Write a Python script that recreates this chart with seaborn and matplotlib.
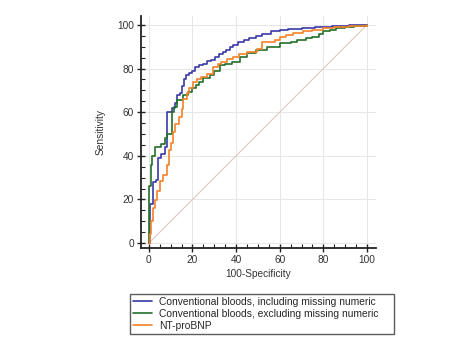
import pandas as pd
import matplotlib
matplotlib.use("Agg")
import matplotlib.pyplot as plt
from matplotlib.ticker import MultipleLocator
import seaborn as sns

# -----------------------------
# ROC DATA (100-Specificity, Sensitivity)
# -----------------------------
labels = [
    "Conventional bloods, including missing numeric",
    "Conventional bloods, excluding missing numeric",
    "NT-proBNP",
]
colors = ["#3a3aa8", "#23702a", "#f5822a"]

blue_fpr = [0, 0.3, 0.6, 1.7, 3.5, 4.3, 5.8, 7.3, 8.1, 10.4, 12.0, 12.7, 14.2, 15.0,
            16.0, 17.0, 18.5, 20.0, 21.0, 23.0, 25.0, 26.8, 28.5, 30.5, 32.0, 33.8,
            35.5, 37.0, 38.5, 41.0, 43.5, 46.0, 49.0, 52.0, 56.0, 60.0, 64.0, 70.0,
            76.0, 84.0, 92.0, 100]
blue_tpr = [0, 8, 18, 28, 29, 39, 41, 44, 60, 62, 64, 68, 69, 72, 75, 77, 78, 79,
            80.5, 81.5, 82, 83.5, 84, 85.5, 86.5, 87.5, 88.5, 90, 91, 92, 93, 94, 95,
            96, 97, 97.5, 98, 98.5, 99, 99.5, 99.8, 100]

green_fpr = [0, 0.1, 0.8, 1.5, 2.8, 5.8, 7.3, 8.2, 10.4, 11.5, 12.7, 15.7, 18.0, 20.0,
             21.5, 23.0, 25.0, 28.0, 30.0, 32.5, 35.0, 38.0, 42.0, 45.0, 49.0, 54.0,
             60.0, 65.0, 68.0, 72.0, 75.0, 78.0, 80.0, 83.0, 86.0, 90.0, 94.0, 100]
green_tpr = [0, 26, 36, 40, 44, 45.6, 48, 50, 60, 62.5, 65.5, 68, 69.4, 71, 72.5, 74,
             75.5, 77, 79, 81.5, 82, 83, 85.5, 87, 88.5, 90, 91.6, 92, 93, 94, 94.6,
             96, 97, 97.5, 98.5, 99, 99.5, 100]

orange_fpr = [0, 0.5, 1.2, 2.0, 2.8, 3.8, 5.0, 6.6, 8.4, 9.3, 10.2, 10.9, 11.9, 13.9,
              15.0, 15.7, 17.3, 18.5, 20.3, 22.0, 24.0, 26.5, 29.5, 31.5, 33.3, 36.0,
              38.7, 41.5, 44.8, 49.4, 51.7, 57.8, 60.0, 63.0, 66.0, 70.8, 75.0, 80.0,
              85.0, 92.0, 100]
orange_tpr = [0, 4, 10, 16, 19.6, 24, 28.7, 31, 35.6, 42.5, 46, 51, 54.7, 57.8, 61.6,
              66, 69, 71, 74, 75, 76, 77.5, 80.9, 82, 83.2, 84.5, 85.5, 86.5, 87.8,
              88.8, 92.4, 93.1, 94.6, 95.5, 96.2, 97.2, 97.7, 98.8, 99.2, 99.7, 100]

diag = [0, 100]

frames = []
for lab, fpr, tpr in zip(labels, [blue_fpr, green_fpr, orange_fpr],
                         [blue_tpr, green_tpr, orange_tpr]):
    frames.append(pd.DataFrame({"fpr": fpr, "tpr": tpr, "curve": lab}))
df = pd.concat(frames, ignore_index=True)

sns.set_style("white")
plt.rcParams["font.family"] = ["Liberation Sans", "DejaVu Sans"]

fig = plt.figure(figsize=(4.74, 3.55), dpi=100)
ax = fig.add_axes([0.297, 0.301, 0.496, 0.654])

ax.plot(diag, diag, color="#dfc6c6", lw=0.8, zorder=1)
sns.lineplot(data=df, x="fpr", y="tpr", hue="curve", palette=colors,
             sort=False, estimator=None, drawstyle="steps-post",
             linewidth=1.2, ax=ax, legend=False, zorder=3)

ax.set_xlim(-3.7, 104.1)
ax.set_ylim(-2.3, 104.1)
ax.xaxis.set_major_locator(MultipleLocator(20))
ax.yaxis.set_major_locator(MultipleLocator(20))
ax.xaxis.set_minor_locator(MultipleLocator(5))
ax.yaxis.set_minor_locator(MultipleLocator(5))
ax.grid(True, which="major", color="#e6e6e6", lw=0.7)
ax.set_axisbelow(True)

for s in ["top", "right"]:
    ax.spines[s].set_visible(False)
for s in ["left", "bottom"]:
    ax.spines[s].set_color("#222222")
    ax.spines[s].set_linewidth(1.3)

ax.tick_params(which="major", direction="inout", length=6, width=1,
               labelsize=7.3, color="#222222", labelcolor="#333333", pad=2)
ax.tick_params(which="minor", direction="in", length=3, width=0.8,
               color="#222222")
ax.tick_params(axis="both", which="both", left=True, bottom=True)

ax.set_xlabel("100-Specificity", fontsize=7.3, color="#333333", labelpad=3)
ax.set_ylabel("Sensitivity", fontsize=7.3, color="#333333", labelpad=8)

handles = [plt.Line2D([], [], color=c, lw=1.2) for c in colors]
leg = fig.legend(handles, labels, loc="lower left",
                 bbox_to_anchor=(0.274, 0.059, 0.557, 0.124), mode="expand",
                 fontsize=7.4, frameon=True, fancybox=False, borderaxespad=0,
                 handlelength=1.9, handletextpad=0.6, labelspacing=0.2,
                 borderpad=0.3)
leg.get_frame().set_edgecolor("#333333")
leg.get_frame().set_linewidth(1.0)

fig.savefig("out.png", dpi=100)
